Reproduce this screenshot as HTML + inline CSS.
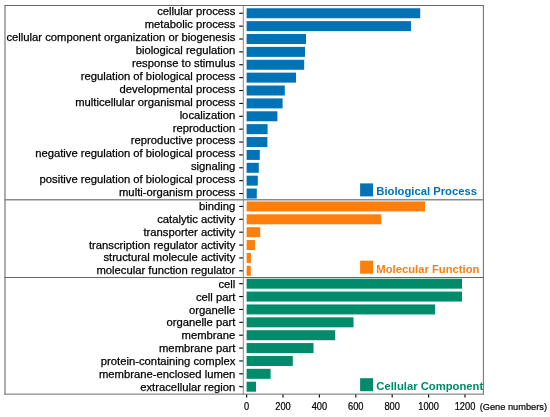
<!DOCTYPE html>
<html><head><meta charset="utf-8"><title>GO classification</title>
<style>
html,body{margin:0;padding:0;background:#fff;}
svg{display:block;font-family:"Liberation Sans",sans-serif;}
.yl{font-size:11.25px;fill:#000;text-anchor:end;stroke:#000;stroke-width:0.25px;}
.xl{font-size:9.3px;fill:#000;text-anchor:middle;stroke:#000;stroke-width:0.2px;}
.lg{font-size:11.25px;font-weight:bold;}
</style></head><body>
<svg width="550" height="417" viewBox="0 0 550 417">
<rect width="550" height="417" fill="#ffffff"/>
<rect x="246.6" y="8.25" width="173.6" height="10.0" fill="#0073B7"/>
<rect x="246.6" y="21.13" width="164.4" height="10.0" fill="#0073B7"/>
<rect x="246.6" y="34.01" width="59.4" height="10.0" fill="#0073B7"/>
<rect x="246.6" y="46.88" width="58.4" height="10.0" fill="#0073B7"/>
<rect x="246.6" y="59.76" width="57.6" height="10.0" fill="#0073B7"/>
<rect x="246.6" y="72.64" width="49.4" height="10.0" fill="#0073B7"/>
<rect x="246.6" y="85.52" width="38.2" height="10.0" fill="#0073B7"/>
<rect x="246.6" y="98.40" width="36.0" height="10.0" fill="#0073B7"/>
<rect x="246.6" y="111.27" width="30.8" height="10.0" fill="#0073B7"/>
<rect x="246.6" y="124.15" width="21.0" height="10.0" fill="#0073B7"/>
<rect x="246.6" y="137.03" width="20.8" height="10.0" fill="#0073B7"/>
<rect x="246.6" y="149.91" width="13.2" height="10.0" fill="#0073B7"/>
<rect x="246.6" y="162.79" width="12.2" height="10.0" fill="#0073B7"/>
<rect x="246.6" y="175.66" width="11.2" height="10.0" fill="#0073B7"/>
<rect x="246.6" y="188.54" width="10.2" height="10.0" fill="#0073B7"/>
<rect x="246.6" y="201.42" width="178.4" height="10.0" fill="#FF7F0E"/>
<rect x="246.6" y="214.30" width="134.6" height="10.0" fill="#FF7F0E"/>
<rect x="246.6" y="227.18" width="13.6" height="10.0" fill="#FF7F0E"/>
<rect x="246.6" y="240.05" width="8.4" height="10.0" fill="#FF7F0E"/>
<rect x="246.6" y="252.93" width="4.4" height="10.0" fill="#FF7F0E"/>
<rect x="246.6" y="265.81" width="4.2" height="10.0" fill="#FF7F0E"/>
<rect x="246.6" y="278.69" width="215.4" height="10.0" fill="#008B6B"/>
<rect x="246.6" y="291.57" width="215.4" height="10.0" fill="#008B6B"/>
<rect x="246.6" y="304.44" width="188.4" height="10.0" fill="#008B6B"/>
<rect x="246.6" y="317.32" width="106.9" height="10.0" fill="#008B6B"/>
<rect x="246.6" y="330.20" width="88.6" height="10.0" fill="#008B6B"/>
<rect x="246.6" y="343.08" width="66.9" height="10.0" fill="#008B6B"/>
<rect x="246.6" y="355.96" width="46.2" height="10.0" fill="#008B6B"/>
<rect x="246.6" y="368.83" width="24.0" height="10.0" fill="#008B6B"/>
<rect x="246.6" y="381.71" width="9.4" height="10.0" fill="#008B6B"/>
<line x1="239.2" y1="13.25" x2="243.1" y2="13.25" stroke="#000" stroke-width="1.1"/>
<text class="yl" x="235.3" y="15.35">cellular process</text>
<line x1="239.2" y1="26.13" x2="243.1" y2="26.13" stroke="#000" stroke-width="1.1"/>
<text class="yl" x="235.3" y="28.26">metabolic process</text>
<line x1="239.2" y1="39.01" x2="243.1" y2="39.01" stroke="#000" stroke-width="1.1"/>
<text class="yl" x="235.3" y="41.17">cellular component organization or biogenesis</text>
<line x1="239.2" y1="51.88" x2="243.1" y2="51.88" stroke="#000" stroke-width="1.1"/>
<text class="yl" x="235.3" y="54.08">biological regulation</text>
<line x1="239.2" y1="64.76" x2="243.1" y2="64.76" stroke="#000" stroke-width="1.1"/>
<text class="yl" x="235.3" y="66.99">response to stimulus</text>
<line x1="239.2" y1="77.64" x2="243.1" y2="77.64" stroke="#000" stroke-width="1.1"/>
<text class="yl" x="235.3" y="79.90">regulation of biological process</text>
<line x1="239.2" y1="90.52" x2="243.1" y2="90.52" stroke="#000" stroke-width="1.1"/>
<text class="yl" x="235.3" y="92.81">developmental process</text>
<line x1="239.2" y1="103.40" x2="243.1" y2="103.40" stroke="#000" stroke-width="1.1"/>
<text class="yl" x="235.3" y="105.72">multicellular organismal process</text>
<line x1="239.2" y1="116.27" x2="243.1" y2="116.27" stroke="#000" stroke-width="1.1"/>
<text class="yl" x="235.3" y="118.63">localization</text>
<line x1="239.2" y1="129.15" x2="243.1" y2="129.15" stroke="#000" stroke-width="1.1"/>
<text class="yl" x="235.3" y="131.54">reproduction</text>
<line x1="239.2" y1="142.03" x2="243.1" y2="142.03" stroke="#000" stroke-width="1.1"/>
<text class="yl" x="235.3" y="144.45">reproductive process</text>
<line x1="239.2" y1="154.91" x2="243.1" y2="154.91" stroke="#000" stroke-width="1.1"/>
<text class="yl" x="235.3" y="157.36">negative regulation of biological process</text>
<line x1="239.2" y1="167.79" x2="243.1" y2="167.79" stroke="#000" stroke-width="1.1"/>
<text class="yl" x="235.3" y="170.27">signaling</text>
<line x1="239.2" y1="180.66" x2="243.1" y2="180.66" stroke="#000" stroke-width="1.1"/>
<text class="yl" x="235.3" y="183.18">positive regulation of biological process</text>
<line x1="239.2" y1="193.54" x2="243.1" y2="193.54" stroke="#000" stroke-width="1.1"/>
<text class="yl" x="235.3" y="196.09">multi-organism process</text>
<line x1="239.2" y1="206.42" x2="243.1" y2="206.42" stroke="#000" stroke-width="1.1"/>
<text class="yl" x="235.3" y="209.82">binding</text>
<line x1="239.2" y1="219.30" x2="243.1" y2="219.30" stroke="#000" stroke-width="1.1"/>
<text class="yl" x="235.3" y="222.72">catalytic activity</text>
<line x1="239.2" y1="232.18" x2="243.1" y2="232.18" stroke="#000" stroke-width="1.1"/>
<text class="yl" x="235.3" y="235.62">transporter activity</text>
<line x1="239.2" y1="245.05" x2="243.1" y2="245.05" stroke="#000" stroke-width="1.1"/>
<text class="yl" x="235.3" y="248.51">transcription regulator activity</text>
<line x1="239.2" y1="257.93" x2="243.1" y2="257.93" stroke="#000" stroke-width="1.1"/>
<text class="yl" x="235.3" y="261.41">structural molecule activity</text>
<line x1="239.2" y1="270.81" x2="243.1" y2="270.81" stroke="#000" stroke-width="1.1"/>
<text class="yl" x="235.3" y="274.31">molecular function regulator</text>
<line x1="239.2" y1="283.69" x2="243.1" y2="283.69" stroke="#000" stroke-width="1.1"/>
<text class="yl" x="235.3" y="287.64">cell</text>
<line x1="239.2" y1="296.57" x2="243.1" y2="296.57" stroke="#000" stroke-width="1.1"/>
<text class="yl" x="235.3" y="300.58">cell part</text>
<line x1="239.2" y1="309.44" x2="243.1" y2="309.44" stroke="#000" stroke-width="1.1"/>
<text class="yl" x="235.3" y="313.51">organelle</text>
<line x1="239.2" y1="322.32" x2="243.1" y2="322.32" stroke="#000" stroke-width="1.1"/>
<text class="yl" x="235.3" y="326.45">organelle part</text>
<line x1="239.2" y1="335.20" x2="243.1" y2="335.20" stroke="#000" stroke-width="1.1"/>
<text class="yl" x="235.3" y="339.39">membrane</text>
<line x1="239.2" y1="348.08" x2="243.1" y2="348.08" stroke="#000" stroke-width="1.1"/>
<text class="yl" x="235.3" y="352.33">membrane part</text>
<line x1="239.2" y1="360.96" x2="243.1" y2="360.96" stroke="#000" stroke-width="1.1"/>
<text class="yl" x="235.3" y="365.27">protein-containing complex</text>
<line x1="239.2" y1="373.83" x2="243.1" y2="373.83" stroke="#000" stroke-width="1.1"/>
<text class="yl" x="235.3" y="378.20">membrane-enclosed lumen</text>
<line x1="239.2" y1="386.71" x2="243.1" y2="386.71" stroke="#000" stroke-width="1.1"/>
<text class="yl" x="235.3" y="391.14">extracellular region</text>
<line x1="4.3" y1="5.5" x2="483.9" y2="5.5" stroke="#666" stroke-width="1"/>
<line x1="5.0" y1="5" x2="5.0" y2="394.8" stroke="#8a8a8a" stroke-width="1.4"/>
<line x1="483.4" y1="5" x2="483.4" y2="394.8" stroke="#777" stroke-width="1.1"/>
<line x1="4.3" y1="394.1" x2="483.9" y2="394.1" stroke="#8a8a8a" stroke-width="1.4"/>
<line x1="4.3" y1="199.8" x2="483.9" y2="199.8" stroke="#8a8a8a" stroke-width="1.4"/>
<line x1="4.3" y1="277.5" x2="483.9" y2="277.5" stroke="#666" stroke-width="1"/>
<line x1="243.3" y1="5" x2="243.3" y2="394.8" stroke="#888" stroke-width="1.0"/>
<line x1="246.60" y1="394.6" x2="246.60" y2="397.6" stroke="#111" stroke-width="1.2"/>
<text class="xl" transform="translate(246.60,409.5) scale(1,1.08)">0</text>
<line x1="283.00" y1="394.6" x2="283.00" y2="397.6" stroke="#111" stroke-width="1.2"/>
<text class="xl" transform="translate(283.00,409.5) scale(1,1.08)">200</text>
<line x1="319.40" y1="394.6" x2="319.40" y2="397.6" stroke="#111" stroke-width="1.2"/>
<text class="xl" transform="translate(319.40,409.5) scale(1,1.08)">400</text>
<line x1="355.80" y1="394.6" x2="355.80" y2="397.6" stroke="#111" stroke-width="1.2"/>
<text class="xl" transform="translate(355.80,409.5) scale(1,1.08)">600</text>
<line x1="392.20" y1="394.6" x2="392.20" y2="397.6" stroke="#111" stroke-width="1.2"/>
<text class="xl" transform="translate(392.20,409.5) scale(1,1.08)">800</text>
<line x1="428.60" y1="394.6" x2="428.60" y2="397.6" stroke="#111" stroke-width="1.2"/>
<text class="xl" transform="translate(428.60,409.5) scale(1,1.08)">1000</text>
<line x1="465.00" y1="394.6" x2="465.00" y2="397.6" stroke="#111" stroke-width="1.2"/>
<text class="xl" transform="translate(465.00,409.5) scale(1,1.08)">1200</text>
<text x="479.7" y="410" style="font-size:9.25px;fill:#000;stroke:#000;stroke-width:0.2px">(Gene numbers)</text>
<rect x="360.1" y="183.4" width="13" height="13" fill="#0073B7"/>
<text class="lg" x="376.3" y="195.2" fill="#0073B7">Biological Process</text>
<rect x="360.1" y="260.7" width="13" height="13" fill="#FF7F0E"/>
<text class="lg" x="376.3" y="272.5" fill="#FF7F0E">Molecular Function</text>
<rect x="360.1" y="378.2" width="13" height="13" fill="#008B6B"/>
<text class="lg" x="376.3" y="390.0" fill="#008B6B">Cellular Component</text>
</svg></body></html>
